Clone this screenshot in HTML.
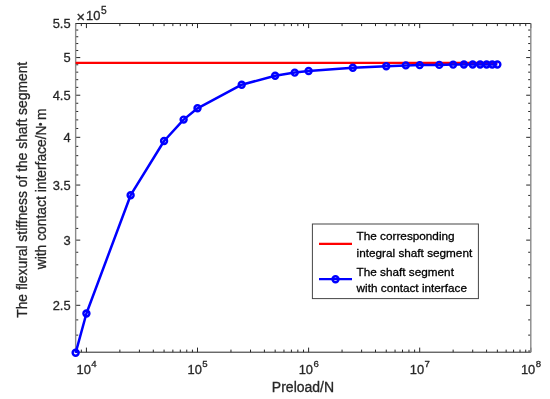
<!DOCTYPE html>
<html><head><meta charset="utf-8"><title>Flexural stiffness vs preload</title>
<style>html,body{margin:0;padding:0;background:#fff;width:550px;height:399px;overflow:hidden}</style>
</head><body>
<svg width="550" height="399" viewBox="0 0 550 399" style="display:block">
<rect x="0" y="0" width="550" height="399" fill="#fff"/>
<style>text{stroke:currentColor;stroke-width:0.3px;paint-order:stroke}</style>
<path d="M75.65 352.20v-2.6M75.65 23.50v2.6M81.33 352.20v-2.6M81.33 23.50v2.6M86.42 352.20v-4.6M86.42 23.50v4.6M119.86 352.20v-2.6M119.86 23.50v2.6M139.42 352.20v-2.6M139.42 23.50v2.6M153.30 352.20v-2.6M153.30 23.50v2.6M164.07 352.20v-2.6M164.07 23.50v2.6M172.87 352.20v-2.6M172.87 23.50v2.6M180.30 352.20v-2.6M180.30 23.50v2.6M186.75 352.20v-2.6M186.75 23.50v2.6M192.43 352.20v-2.6M192.43 23.50v2.6M197.51 352.20v-4.6M197.51 23.50v4.6M230.96 352.20v-2.6M230.96 23.50v2.6M250.52 352.20v-2.6M250.52 23.50v2.6M264.40 352.20v-2.6M264.40 23.50v2.6M275.16 352.20v-2.6M275.16 23.50v2.6M283.96 352.20v-2.6M283.96 23.50v2.6M291.40 352.20v-2.6M291.40 23.50v2.6M297.84 352.20v-2.6M297.84 23.50v2.6M303.52 352.20v-2.6M303.52 23.50v2.6M308.61 352.20v-4.6M308.61 23.50v4.6M342.05 352.20v-2.6M342.05 23.50v2.6M361.61 352.20v-2.6M361.61 23.50v2.6M375.49 352.20v-2.6M375.49 23.50v2.6M386.26 352.20v-2.6M386.26 23.50v2.6M395.06 352.20v-2.6M395.06 23.50v2.6M402.50 352.20v-2.6M402.50 23.50v2.6M408.94 352.20v-2.6M408.94 23.50v2.6M414.62 352.20v-2.6M414.62 23.50v2.6M419.70 352.20v-4.6M419.70 23.50v4.6M453.15 352.20v-2.6M453.15 23.50v2.6M472.71 352.20v-2.6M472.71 23.50v2.6M486.59 352.20v-2.6M486.59 23.50v2.6M497.36 352.20v-2.6M497.36 23.50v2.6M506.15 352.20v-2.6M506.15 23.50v2.6M513.59 352.20v-2.6M513.59 23.50v2.6M520.03 352.20v-2.6M520.03 23.50v2.6M525.72 352.20v-2.6M525.72 23.50v2.6M530.80 352.20v-4.6M530.80 23.50v4.6M75.65 351.00h2.6M530.80 351.00h-2.6M75.65 335.11h2.6M530.80 335.11h-2.6M75.65 319.90h2.6M530.80 319.90h-2.6M75.65 305.31h4.6M530.80 305.31h-4.6M75.65 291.29h2.6M530.80 291.29h-2.6M75.65 277.80h2.6M530.80 277.80h-2.6M75.65 264.80h2.6M530.80 264.80h-2.6M75.65 252.26h2.6M530.80 252.26h-2.6M75.65 240.14h4.6M530.80 240.14h-4.6M75.65 228.42h2.6M530.80 228.42h-2.6M75.65 217.07h2.6M530.80 217.07h-2.6M75.65 206.08h2.6M530.80 206.08h-2.6M75.65 195.41h2.6M530.80 195.41h-2.6M75.65 185.05h4.6M530.80 185.05h-4.6M75.65 174.98h2.6M530.80 174.98h-2.6M75.65 165.18h2.6M530.80 165.18h-2.6M75.65 155.65h2.6M530.80 155.65h-2.6M75.65 146.37h2.6M530.80 146.37h-2.6M75.65 137.32h4.6M530.80 137.32h-4.6M75.65 128.49h2.6M530.80 128.49h-2.6M75.65 119.88h2.6M530.80 119.88h-2.6M75.65 111.47h2.6M530.80 111.47h-2.6M75.65 103.25h2.6M530.80 103.25h-2.6M75.65 95.22h4.6M530.80 95.22h-4.6M75.65 87.37h2.6M530.80 87.37h-2.6M75.65 79.68h2.6M530.80 79.68h-2.6M75.65 72.16h2.6M530.80 72.16h-2.6M75.65 64.79h2.6M530.80 64.79h-2.6M75.65 57.57h4.6M530.80 57.57h-4.6M75.65 50.49h2.6M530.80 50.49h-2.6M75.65 43.55h2.6M530.80 43.55h-2.6M75.65 36.74h2.6M530.80 36.74h-2.6M75.65 30.06h2.6M530.80 30.06h-2.6M75.65 23.50h4.6M530.80 23.50h-4.6" stroke="#262626" stroke-width="1" fill="none"/>
<path d="M75.65 23.5H530.8M75.65 352.2H530.8" stroke="#262626" stroke-width="1" fill="none"/>
<path d="M75.65 23.5V352.2M530.8 23.5V352.2" stroke="#8a8a8a" stroke-width="1.4" fill="none"/>
<path d="M75.65 62.8H497.36" stroke="#ff0000" stroke-width="2.2" fill="none"/>
<path d="M75.65 352.80L86.42 313.50L130.63 195.20L164.07 141.00L183.63 119.60L197.51 108.30L241.72 84.70L275.16 75.80L294.73 72.60L308.61 71.00L352.82 67.80L386.26 66.20L405.82 65.40L419.70 65.10L439.27 64.90L453.15 64.60L463.91 64.50L472.71 64.50L480.15 64.50L486.59 64.50L492.27 64.50L497.36 64.50" stroke="#0000ff" stroke-width="2.5" fill="none" stroke-linejoin="round"/>
<circle cx="75.65" cy="352.80" r="3.0" stroke="#0000ff" stroke-width="2.4" fill="none"/>
<circle cx="86.42" cy="313.50" r="3.0" stroke="#0000ff" stroke-width="2.4" fill="none"/>
<circle cx="130.63" cy="195.20" r="3.0" stroke="#0000ff" stroke-width="2.4" fill="none"/>
<circle cx="164.07" cy="141.00" r="3.0" stroke="#0000ff" stroke-width="2.4" fill="none"/>
<circle cx="183.63" cy="119.60" r="3.0" stroke="#0000ff" stroke-width="2.4" fill="none"/>
<circle cx="197.51" cy="108.30" r="3.0" stroke="#0000ff" stroke-width="2.4" fill="none"/>
<circle cx="241.72" cy="84.70" r="3.0" stroke="#0000ff" stroke-width="2.4" fill="none"/>
<circle cx="275.16" cy="75.80" r="3.0" stroke="#0000ff" stroke-width="2.4" fill="none"/>
<circle cx="294.73" cy="72.60" r="3.0" stroke="#0000ff" stroke-width="2.4" fill="none"/>
<circle cx="308.61" cy="71.00" r="3.0" stroke="#0000ff" stroke-width="2.4" fill="none"/>
<circle cx="352.82" cy="67.80" r="3.0" stroke="#0000ff" stroke-width="2.4" fill="none"/>
<circle cx="386.26" cy="66.20" r="3.0" stroke="#0000ff" stroke-width="2.4" fill="none"/>
<circle cx="405.82" cy="65.40" r="3.0" stroke="#0000ff" stroke-width="2.4" fill="none"/>
<circle cx="419.70" cy="65.10" r="3.0" stroke="#0000ff" stroke-width="2.4" fill="none"/>
<circle cx="439.27" cy="64.90" r="3.0" stroke="#0000ff" stroke-width="2.4" fill="none"/>
<circle cx="453.15" cy="64.60" r="3.0" stroke="#0000ff" stroke-width="2.4" fill="none"/>
<circle cx="463.91" cy="64.50" r="3.0" stroke="#0000ff" stroke-width="2.4" fill="none"/>
<circle cx="472.71" cy="64.50" r="3.0" stroke="#0000ff" stroke-width="2.4" fill="none"/>
<circle cx="480.15" cy="64.50" r="3.0" stroke="#0000ff" stroke-width="2.4" fill="none"/>
<circle cx="486.59" cy="64.50" r="3.0" stroke="#0000ff" stroke-width="2.4" fill="none"/>
<circle cx="492.27" cy="64.50" r="3.0" stroke="#0000ff" stroke-width="2.4" fill="none"/>
<circle cx="497.36" cy="64.50" r="3.0" stroke="#0000ff" stroke-width="2.4" fill="none"/>
<text x="70.6" y="309.86" text-anchor="end" font-family='"Liberation Sans", Arial, sans-serif' font-size="12.9" fill="#262626" color="#262626">2.5</text>
<text x="70.6" y="244.69" text-anchor="end" font-family='"Liberation Sans", Arial, sans-serif' font-size="12.9" fill="#262626" color="#262626">3</text>
<text x="70.6" y="189.60" text-anchor="end" font-family='"Liberation Sans", Arial, sans-serif' font-size="12.9" fill="#262626" color="#262626">3.5</text>
<text x="70.6" y="141.87" text-anchor="end" font-family='"Liberation Sans", Arial, sans-serif' font-size="12.9" fill="#262626" color="#262626">4</text>
<text x="70.6" y="99.77" text-anchor="end" font-family='"Liberation Sans", Arial, sans-serif' font-size="12.9" fill="#262626" color="#262626">4.5</text>
<text x="70.6" y="62.12" text-anchor="end" font-family='"Liberation Sans", Arial, sans-serif' font-size="12.9" fill="#262626" color="#262626">5</text>
<text x="70.6" y="28.05" text-anchor="end" font-family='"Liberation Sans", Arial, sans-serif' font-size="12.9" fill="#262626" color="#262626">5.5</text>
<text x="76.52" y="373.8" font-family='"Liberation Sans", Arial, sans-serif' font-size="12.9" fill="#262626" color="#262626">10<tspan dx="0.4" dy="-6.8" font-size="9.6">4</tspan></text>
<text x="187.61" y="373.8" font-family='"Liberation Sans", Arial, sans-serif' font-size="12.9" fill="#262626" color="#262626">10<tspan dx="0.4" dy="-6.8" font-size="9.6">5</tspan></text>
<text x="298.71" y="373.8" font-family='"Liberation Sans", Arial, sans-serif' font-size="12.9" fill="#262626" color="#262626">10<tspan dx="0.4" dy="-6.8" font-size="9.6">6</tspan></text>
<text x="409.80" y="373.8" font-family='"Liberation Sans", Arial, sans-serif' font-size="12.9" fill="#262626" color="#262626">10<tspan dx="0.4" dy="-6.8" font-size="9.6">7</tspan></text>
<text x="520.90" y="373.8" font-family='"Liberation Sans", Arial, sans-serif' font-size="12.9" fill="#262626" color="#262626">10<tspan dx="0.4" dy="-6.8" font-size="9.6">8</tspan></text>
<text x="76.4" y="22.2" font-family='"Liberation Sans", Arial, sans-serif' font-size="14.5" fill="#262626" color="#262626">&#215;</text>
<text x="86.1" y="19.8" font-family='"Liberation Sans", Arial, sans-serif' font-size="12.9" fill="#262626" color="#262626">10<tspan dx="0.5" dy="-5.6" font-size="10.2">5</tspan></text>
<text x="303" y="392.0" text-anchor="middle" font-family='"Liberation Sans", Arial, sans-serif' font-size="14.0" fill="#262626" color="#262626">Preload/N</text>
<text transform="translate(26.6 189.8) rotate(-90)" text-anchor="middle" font-family='"Liberation Sans", Arial, sans-serif' font-size="13.85" fill="#262626" color="#262626">The flexural stiffness of the shaft segment</text>
<text transform="translate(45.9 269.3) rotate(-90)" font-family='"Liberation Sans", Arial, sans-serif' font-size="13.85" fill="#262626" color="#262626">with contact interface/N<tspan font-size="10" dx="-0.5" dy="-2.3">&#8226;</tspan><tspan dx="2.5" dy="2.3">m</tspan></text>
<rect x="312.4" y="224.0" width="166.0" height="74.6" fill="#fff" stroke="#454545" stroke-width="1"/>
<path d="M319 243.8H352" stroke="#ff0000" stroke-width="2.2"/>
<path d="M319 279.2H352" stroke="#0000ff" stroke-width="2.3"/>
<circle cx="335.5" cy="279.2" r="3.0" stroke="#0000ff" stroke-width="2.4" fill="none"/>
<text x="356.6" y="240.3" font-family='"Liberation Sans", Arial, sans-serif' font-size="11.75" fill="#000" color="#000">The corresponding</text>
<text x="356.6" y="256.9" font-family='"Liberation Sans", Arial, sans-serif' font-size="11.75" fill="#000" color="#000">integral shaft segment</text>
<text x="356.6" y="275.8" font-family='"Liberation Sans", Arial, sans-serif' font-size="11.75" fill="#000" color="#000">The shaft segment</text>
<text x="356.6" y="292.2" font-family='"Liberation Sans", Arial, sans-serif' font-size="11.75" fill="#000" color="#000">with contact interface</text>
</svg>
</body></html>
